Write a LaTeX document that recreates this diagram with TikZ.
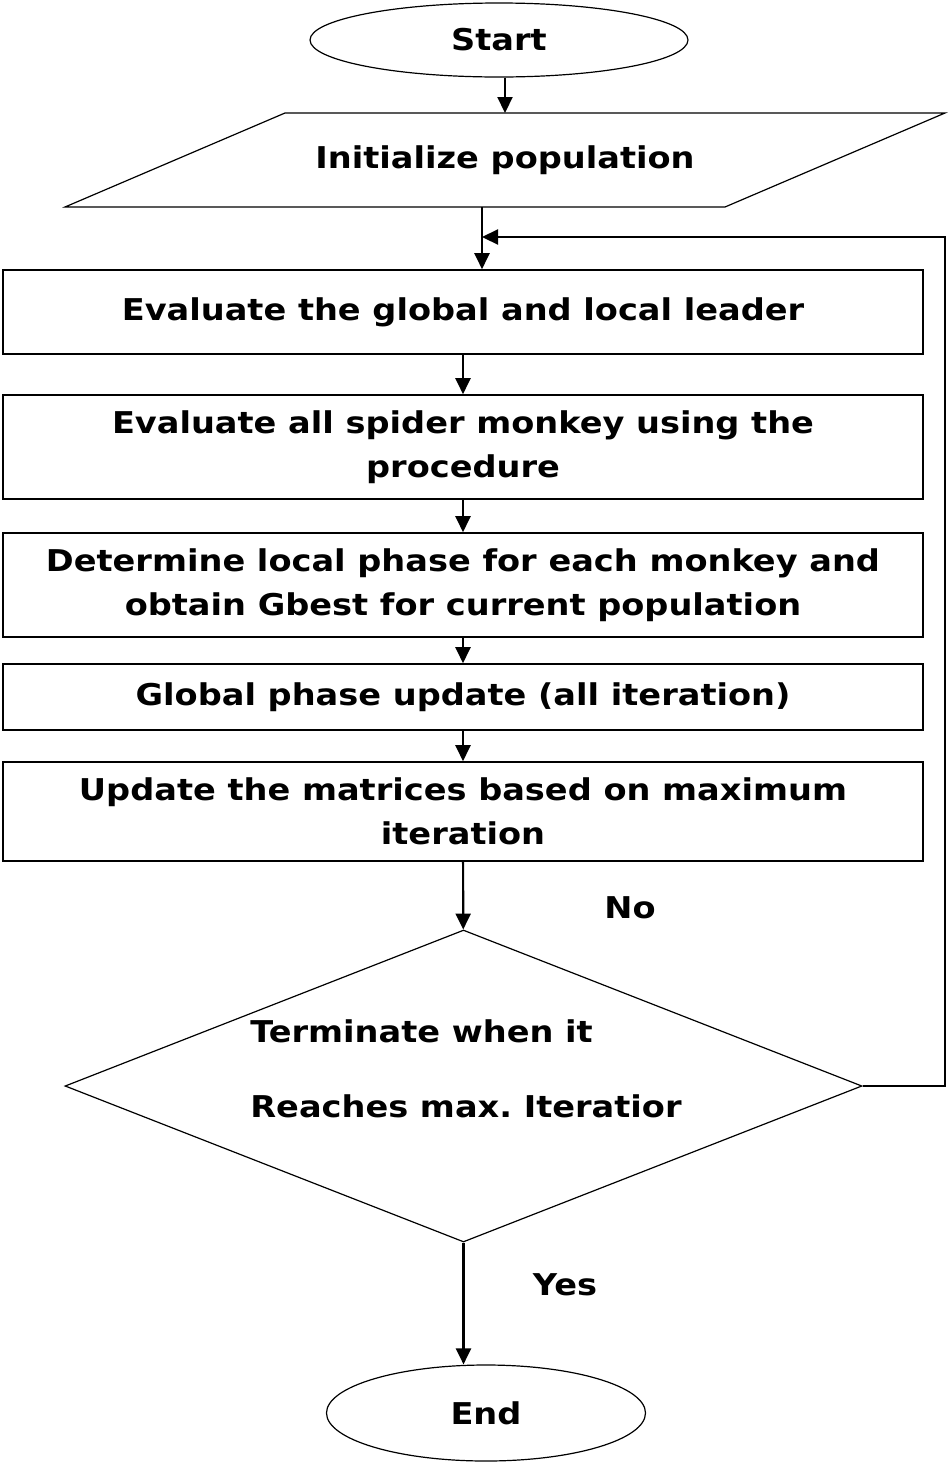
\documentclass[tikz,border=0pt]{standalone}
\usepackage{fontspec}
\setmainfont{DejaVu Sans}[FakeStretch=1.12]
\usetikzlibrary{shapes.geometric,arrows.meta}

\tikzset{
  procbox/.style={draw, line width=0.8pt, minimum width=460pt, inner sep=0pt, align=center},
  termin/.style={draw, ellipse, line width=0.6pt, inner sep=0pt},
  decide/.style={draw, diamond, line width=0.6pt, inner sep=0pt, minimum width=398.5pt, minimum height=156pt},
  flow/.style={->, line width=1.1pt}
}

\begin{document}
\begin{tikzpicture}[x=0.5pt, y=-0.5pt, >={Triangle[width=7.5pt,length=8pt]},
  font=\bfseries\fontsize{15}{22}\selectfont]
\useasboundingbox (0,0) rectangle (950,1468);

\node (start) at (499,40) [termin, minimum width=189pt, minimum height=37pt] {Start};

% input block
\draw [line width=0.6pt] (285,113) -- (945,113) -- (725,207) -- (65,207) -- cycle;
\node (init) at (505,160) [minimum width=220pt, minimum height=47pt, inner sep=0pt] {Initialize population};
\coordinate (join) at (482,237);

\node (lead) at (463,312) [procbox, minimum height=42pt] {Evaluate the global and local leader};
\node (eval) at (463,447) [procbox, minimum height=52pt] {Evaluate all spider monkey using the\\procedure};
\node (local) at (463,585) [procbox, minimum height=52pt] {Determine local phase for each monkey and\\obtain Gbest for current population};
\node (glob) at (463,697) [procbox, minimum height=33pt] {Global phase update (all iteration)};
\node (upd) at (463,811.5) [procbox, minimum height=49.5pt] {Update the matrices based on maximum\\iteration};
\node (term) at (463.5,1086) [decide] {};
\node (termtxt) at (466,1069) [align=left, font=\bfseries\fontsize{15}{37.5}\selectfont] {Terminate when it\\Reaches max.\ Iteratior};
\node (fin) at (486,1413) [termin, minimum width=159.5pt, minimum height=48pt] {End};

\node (no) at (630,908) [] {No};
\node (yes) at (565,1285) [] {Yes};

\draw [flow] (start.south -| init) -- (init.north |- 0,113);
\draw [flow] (join |- 0,207) -- (join |- lead.north);
\draw [flow] (lead) -- (eval);
\draw [flow] (eval) -- (local);
\draw [flow] (local) -- (glob);
\draw [flow] (glob) -- (upd);
\draw [flow] (upd) -- (term);
\draw [flow] (term.south) -- (term.south |- fin.north);
\draw [flow] (term.east) -- (945,1086) -- (945,237) -- (join);

\end{tikzpicture}
\end{document}
